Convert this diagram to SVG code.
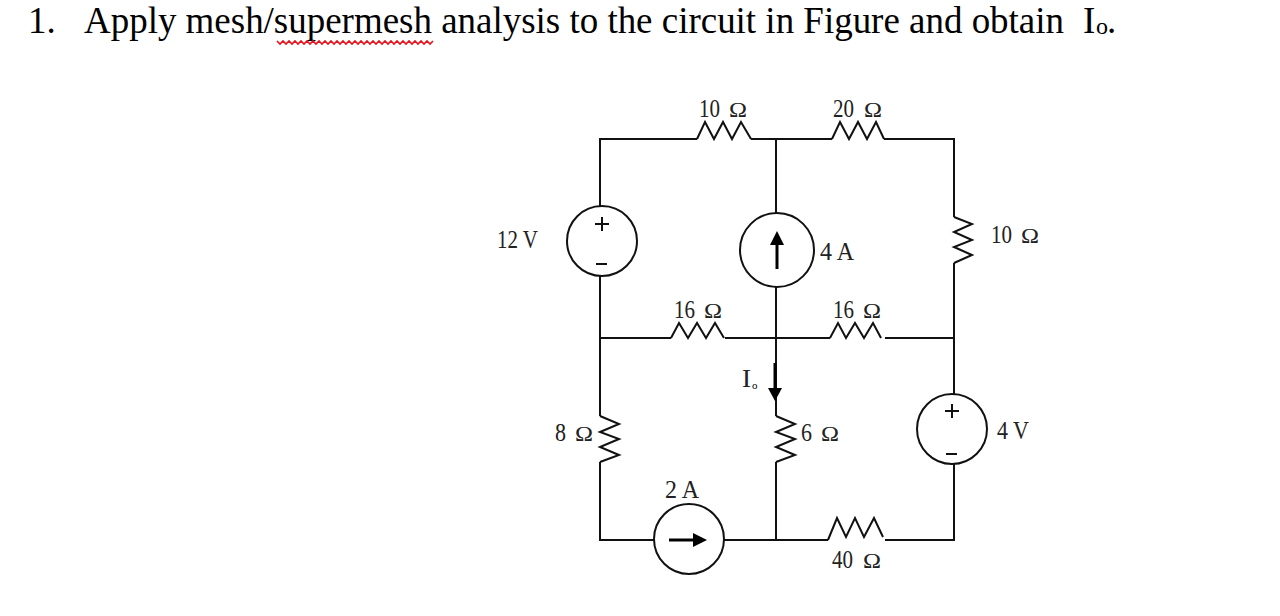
<svg xmlns="http://www.w3.org/2000/svg" width="1280" height="616" viewBox="0 0 1280 616">
<style>
.w{fill:none;stroke:#111;stroke-width:2;stroke-linejoin:miter}
.a{fill:none;stroke:#000;stroke-width:3}
.h{fill:#000;stroke:none}
.t{font-family:"Liberation Serif","Times New Roman",serif;fill:#000}
.l{font-size:25px;fill:#222}
.o{font-size:22px;fill:#222}
.title{font-size:37px;fill:#000}
</style>
<rect width="1280" height="616" fill="#fff"/>
<g id="title">
<text class="t title" x="28" y="33">1.</text>
<text class="t title" x="84" y="33" textLength="980" lengthAdjust="spacingAndGlyphs">Apply mesh/supermesh analysis to the circuit in Figure and obtain</text>
<text class="t title" x="1083" y="33">I</text>
<text class="t" font-size="24" x="1096" y="34">o</text>
<text class="t title" x="1107" y="33">.</text>
<path fill="none" stroke="#e8141c" stroke-width="1.6" d="M277 41l3 3l3-3l3 3l3-3l3 3l3-3l3 3l3-3l3 3l3-3l3 3l3-3l3 3l3-3l3 3l3-3l3 3l3-3l3 3l3-3l3 3l3-3l3 3l3-3l3 3l3-3l3 3l3-3l3 3l3-3l3 3l3-3l3 3l3-3l3 3l3-3l3 3l3-3l3 3l3-3l3 3l3-3l3 3l3-3l3 3l3-3l3 3l3-3l3 3l3-3l3 3l3-3"/>
</g>
<g id="connectors">
<path class="w" d="M600 206V139H697M751 139H832M884 139H954V217M954 263V338H885M830 338H725M671 338H600V276"/>
<path class="w" d="M776 139V213M776 287V416M776 462V540M600 338V416M600 462V540H654M724 540H828M885 540H954V464M954 338V394"/>
</g>
<g id="r-10-top">
<path class="w" d="M697 139L705 122L714 139L723 122L732 139L741 122L751 139"/>
<text class="t l" x="699" y="117" textLength="21" lengthAdjust="spacingAndGlyphs">10</text><text class="t o" x="729" y="117" textLength="18" lengthAdjust="spacingAndGlyphs">Ω</text>
</g>
<g id="r-20-top">
<path class="w" d="M832 139L840 122L849 139L858 122L867 139L876 122L884 139"/>
<text class="t l" x="833" y="117" textLength="21" lengthAdjust="spacingAndGlyphs">20</text><text class="t o" x="864" y="117" textLength="18" lengthAdjust="spacingAndGlyphs">Ω</text>
</g>
<g id="r-10-right">
<path class="w" d="M954 217L972 224L954 232L972 240L954 247L972 255L954 263"/>
<text class="t l" x="991" y="243" textLength="21" lengthAdjust="spacingAndGlyphs">10</text><text class="t o" x="1021" y="243" textLength="18" lengthAdjust="spacingAndGlyphs">Ω</text>
</g>
<g id="r-16-left">
<path class="w" d="M671 338L679 323L688 338L697 323L706 338L715 323L724 338"/>
<text class="t l" x="674" y="318" textLength="21" lengthAdjust="spacingAndGlyphs">16</text><text class="t o" x="704" y="318" textLength="18" lengthAdjust="spacingAndGlyphs">Ω</text>
</g>
<g id="r-16-right">
<path class="w" d="M830 338L838 323L846 338L855 323L864 338L873 323L881 338"/>
<text class="t l" x="833" y="318" textLength="21" lengthAdjust="spacingAndGlyphs">16</text><text class="t o" x="863" y="318" textLength="18" lengthAdjust="spacingAndGlyphs">Ω</text>
</g>
<g id="r-8">
<path class="w" d="M600 416L619 424L600 432L619 439L600 447L619 455L600 462"/>
<text class="t l" x="555" y="441" textLength="11" lengthAdjust="spacingAndGlyphs">8</text><text class="t o" x="575" y="441" textLength="18" lengthAdjust="spacingAndGlyphs">Ω</text>
</g>
<g id="r-6">
<path class="w" d="M776 416L795 424L776 432L795 439L776 447L795 455L776 462"/>
<text class="t l" x="801" y="441" textLength="11" lengthAdjust="spacingAndGlyphs">6</text><text class="t o" x="821" y="441" textLength="18" lengthAdjust="spacingAndGlyphs">Ω</text>
</g>
<g id="r-40">
<path class="w" d="M828 540L837 518L846 537L855 518L864 537L874 518L883 537"/>
<text class="t l" x="832" y="568" textLength="21" lengthAdjust="spacingAndGlyphs">40</text><text class="t o" x="863" y="568" textLength="18" lengthAdjust="spacingAndGlyphs">Ω</text>
</g>
<g id="v-12">
<circle class="w" cx="602" cy="241" r="35"/>
<path class="w" d="M602 217v14M595 224h14M596 264h11"/>
<text class="t l" x="497" y="248" textLength="41" lengthAdjust="spacingAndGlyphs">12 V</text>
</g>
<g id="i-4">
<circle class="w" cx="777" cy="250" r="37"/>
<path class="a" d="M777 269V240"/>
<path class="h" d="M777 231L784 245H770Z"/>
<text class="t l" x="820" y="260" textLength="34" lengthAdjust="spacingAndGlyphs">4 A</text>
</g>
<g id="v-4">
<circle class="w" cx="952" cy="429" r="35"/>
<path class="w" d="M952 404v14M945 411h14M946 454h11"/>
<text class="t l" x="997" y="439" textLength="32" lengthAdjust="spacingAndGlyphs">4 V</text>
</g>
<g id="i-2">
<circle class="w" cx="689" cy="539" r="35"/>
<path class="a" d="M669 540H697"/>
<path class="h" d="M707 540L693 533V547Z"/>
<text class="t l" x="665" y="498" textLength="34" lengthAdjust="spacingAndGlyphs">2 A</text>
</g>
<g id="i-o">
<path class="a" d="M775 363V392"/>
<path class="h" d="M775 401L768 388H782Z"/>
<text class="t l" x="742" y="387" textLength="9" lengthAdjust="spacingAndGlyphs">I</text><text class="t" font-size="11" x="752" y="389">o</text>
</g>
</svg>
